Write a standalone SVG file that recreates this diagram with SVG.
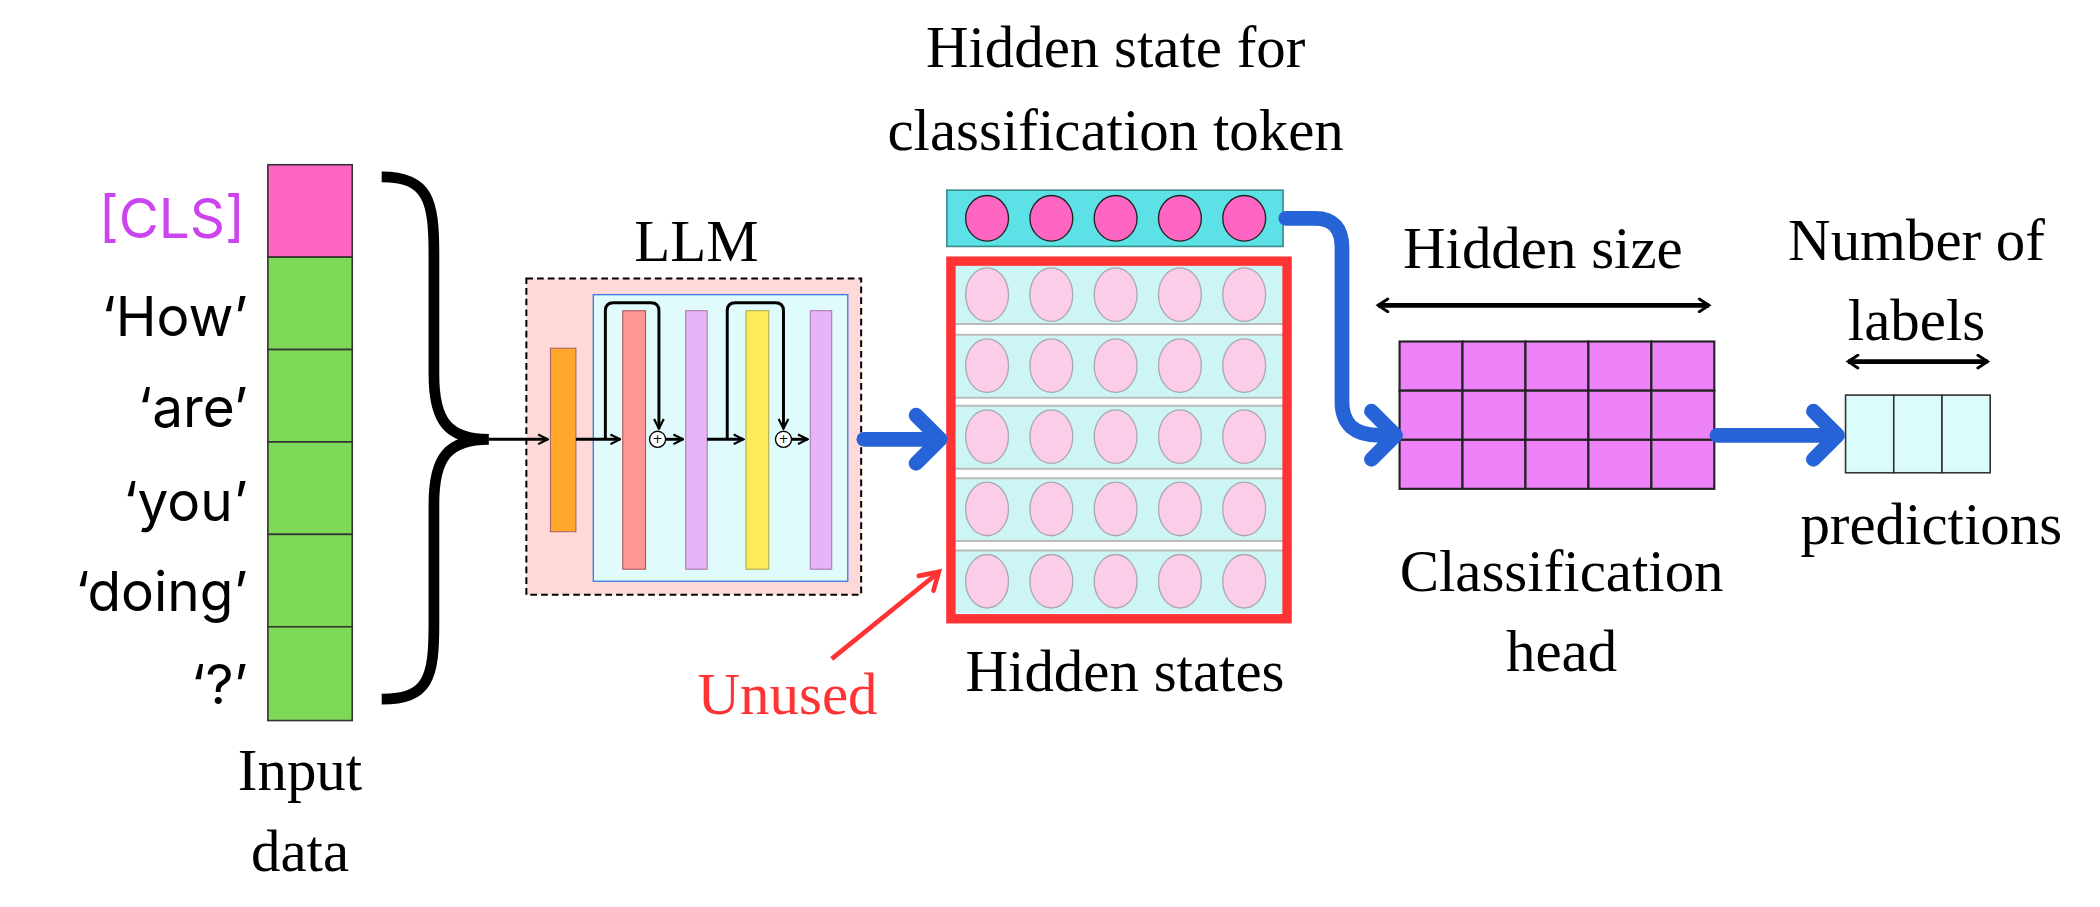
<svg xmlns="http://www.w3.org/2000/svg" width="2100" height="907" viewBox="0 0 2100 907">
<defs>
<style>
.s{font-family:"Liberation Serif","DejaVu Serif",serif;font-size:44px;fill:#000;text-anchor:middle}
.t{font-family:Inter,"Noto Sans",sans-serif;font-size:41px;fill:#000;text-anchor:end}
.cell{stroke:#333;stroke-width:1.2}
.hc{fill:#fccde8;stroke:#aaa;stroke-width:1}
.row{fill:#cdf5f5}
.sep{stroke:#bbb;stroke-width:1.5}
.bk{fill:none;stroke:#000;stroke-width:2.2}
.bl{fill:none;stroke:#2563d6;stroke-width:11;stroke-linecap:round;stroke-linejoin:round}
</style>
<marker id="ah" viewBox="0 0 10 10" refX="9" refY="5" markerWidth="9" markerHeight="9" markerUnits="userSpaceOnUse" orient="auto"><path d="M1,1 L9,5 L1,9" fill="none" stroke="#000" stroke-width="1.8"/></marker>
<marker id="dh" viewBox="0 0 10 10" refX="8" refY="5" markerWidth="12" markerHeight="12" markerUnits="userSpaceOnUse" orient="auto-start-reverse"><path d="M2,1 L8,5 L2,9" fill="none" stroke="#000" stroke-width="1.8" stroke-linecap="round"/></marker>
</defs>
<rect width="2100" height="907" fill="#fff"/>
<g transform="scale(1.3393)">
<g id="input">
<rect x="200" y="123" width="63" height="69" fill="#ff66c4" class="cell"/>
<rect x="200" y="192" width="63" height="69" fill="#7ed957" class="cell"/>
<rect x="200" y="261" width="63" height="69" fill="#7ed957" class="cell"/>
<rect x="200" y="330" width="63" height="69" fill="#7ed957" class="cell"/>
<rect x="200" y="399" width="63" height="69" fill="#7ed957" class="cell"/>
<rect x="200" y="468" width="63" height="70" fill="#7ed957" class="cell"/>
<text class="t" x="183" y="178" style="fill:#cc44ee">[CLS]</text>
<text class="t" x="185" y="251">‘How’</text>
<text class="t" x="185" y="319">‘are’</text>
<text class="t" x="185" y="389">‘you’</text>
<text class="t" x="185" y="456">‘doing’</text>
<text class="t" x="185" y="526">‘?’</text>
<text class="s" x="224" y="590">Input</text>
<text class="s" x="224" y="650">data</text>
</g>
<g id="brace"><path d="M285,132 C320,132 324,150 324,190 L324,280 C324,315 335,328 365,328 C335,328 324,341 324,376 L324,466 C324,506 320,522 285,522" fill="none" stroke="#000" stroke-width="8"/></g>
<g id="llm">
<text class="s" x="520" y="195">LLM</text>
<rect x="393" y="208" width="250" height="236" fill="#fdd9d9" stroke="#000" stroke-width="1.5" stroke-dasharray="5,3"/>
<rect x="443" y="220" width="190" height="214" fill="#dffbfb" stroke="#3b7be0" stroke-width="1"/>
<rect x="411" y="260" width="19" height="137" fill="#ffa62b" stroke="#a66" stroke-width="0.8"/>
<rect x="465" y="232" width="17" height="193" fill="#ff9595" stroke="#a55" stroke-width="0.8"/>
<rect x="512" y="232" width="16" height="193" fill="#e8b4f8" stroke="#a7a" stroke-width="0.8"/>
<rect x="557" y="232" width="17" height="193" fill="#ffeb57" stroke="#aa5" stroke-width="0.8"/>
<rect x="605" y="232" width="16" height="193" fill="#e8b4f8" stroke="#a7a" stroke-width="0.8"/>
<path class="bk" d="M365,328 H409" marker-end="url(#ah)"/>
<path class="bk" d="M430,328 H463" marker-end="url(#ah)"/>
<path class="bk" d="M452,328 V232 Q452,226 458,226 H486 Q492,226 492,232 V320" marker-end="url(#ah)"/>
<circle cx="491" cy="328" r="6" fill="#fff" stroke="#000" stroke-width="1"/>
<text x="491" y="331" font-family="DejaVu Sans,sans-serif" font-size="9" text-anchor="middle">+</text>
<path class="bk" d="M497,328 H510" marker-end="url(#ah)"/>
<path class="bk" d="M528,328 H555" marker-end="url(#ah)"/>
<path class="bk" d="M543,328 V232 Q543,226 549,226 H579 Q585,226 585,232 V320" marker-end="url(#ah)"/>
<circle cx="585" cy="328" r="6" fill="#fff" stroke="#000" stroke-width="1"/>
<text x="585" y="331" font-family="DejaVu Sans,sans-serif" font-size="9" text-anchor="middle">+</text>
<path class="bk" d="M591,328 H603" marker-end="url(#ah)"/>
</g>
<g id="cls-hidden">
<text class="s" x="833" y="50">Hidden state for</text>
<text class="s" x="833" y="112">classification token</text>
<rect x="707" y="142" width="251" height="42" fill="#5ce1e6" stroke="#3a8a8a" stroke-width="1.2"/>
<g fill="#ff66c4" stroke="#222" stroke-width="1"><ellipse cx="737" cy="163" rx="16" ry="17"/><ellipse cx="785" cy="163" rx="16" ry="17"/><ellipse cx="833" cy="163" rx="16" ry="17"/><ellipse cx="881" cy="163" rx="16" ry="17"/><ellipse cx="929" cy="163" rx="16" ry="17"/></g>
</g>
<g id="hidden-states">
<rect class="row" x="713" y="197" width="245" height="45"/>
<rect class="row" x="713" y="250" width="245" height="47"/>
<rect class="row" x="713" y="303" width="245" height="47"/>
<rect class="row" x="713" y="357" width="245" height="47"/>
<rect class="row" x="713" y="411" width="245" height="47"/>
<path class="sep" d="M713,242H958M713,250H958M713,297H958M713,303H958M713,350H958M713,357H958M713,404H958M713,411H958"/>
<g class="hc">
<ellipse cx="737" cy="220" rx="16" ry="20"/><ellipse cx="785" cy="220" rx="16" ry="20"/><ellipse cx="833" cy="220" rx="16" ry="20"/><ellipse cx="881" cy="220" rx="16" ry="20"/><ellipse cx="929" cy="220" rx="16" ry="20"/>
<ellipse cx="737" cy="273" rx="16" ry="20"/><ellipse cx="785" cy="273" rx="16" ry="20"/><ellipse cx="833" cy="273" rx="16" ry="20"/><ellipse cx="881" cy="273" rx="16" ry="20"/><ellipse cx="929" cy="273" rx="16" ry="20"/>
<ellipse cx="737" cy="326" rx="16" ry="20"/><ellipse cx="785" cy="326" rx="16" ry="20"/><ellipse cx="833" cy="326" rx="16" ry="20"/><ellipse cx="881" cy="326" rx="16" ry="20"/><ellipse cx="929" cy="326" rx="16" ry="20"/>
<ellipse cx="737" cy="380" rx="16" ry="20"/><ellipse cx="785" cy="380" rx="16" ry="20"/><ellipse cx="833" cy="380" rx="16" ry="20"/><ellipse cx="881" cy="380" rx="16" ry="20"/><ellipse cx="929" cy="380" rx="16" ry="20"/>
<ellipse cx="737" cy="434" rx="16" ry="20"/><ellipse cx="785" cy="434" rx="16" ry="20"/><ellipse cx="833" cy="434" rx="16" ry="20"/><ellipse cx="881" cy="434" rx="16" ry="20"/><ellipse cx="929" cy="434" rx="16" ry="20"/>
</g>
<rect x="710" y="195" width="251" height="267" fill="none" stroke="#ff3333" stroke-width="7"/>
<text class="s" x="840" y="516">Hidden states</text>
</g>
<g id="unused">
<text class="s" x="588" y="533" style="fill:#ff3333">Unused</text>
</g>
<g id="head">
<text class="s" x="1152" y="200">Hidden size</text>
<g fill="#ee82f8" stroke="#222" stroke-width="1.6">
<rect x="1045" y="255" width="47" height="36.7"/><rect x="1092" y="255" width="47" height="36.7"/><rect x="1139" y="255" width="47" height="36.7"/><rect x="1186" y="255" width="47" height="36.7"/><rect x="1233" y="255" width="47" height="36.7"/>
<rect x="1045" y="291.7" width="47" height="36.7"/><rect x="1092" y="291.7" width="47" height="36.7"/><rect x="1139" y="291.7" width="47" height="36.7"/><rect x="1186" y="291.7" width="47" height="36.7"/><rect x="1233" y="291.7" width="47" height="36.7"/>
<rect x="1045" y="328.4" width="47" height="36.6"/><rect x="1092" y="328.4" width="47" height="36.6"/><rect x="1139" y="328.4" width="47" height="36.6"/><rect x="1186" y="328.4" width="47" height="36.6"/><rect x="1233" y="328.4" width="47" height="36.6"/>
</g>
<text class="s" x="1166" y="441">Classification</text>
<text class="s" x="1166" y="501">head</text>
</g>
<g id="predictions">
<text class="s" x="1431" y="194">Number of</text>
<text class="s" x="1431" y="254">labels</text>
<g fill="#dcfcfc" stroke="#333" stroke-width="1.2"><rect x="1378" y="295" width="36" height="58"/><rect x="1414" y="295" width="36" height="58"/><rect x="1450" y="295" width="36" height="58"/></g>
<text class="s" x="1442" y="406">predictions</text>
</g>
<g id="connectors">
<path class="bl" d="M645,328 H700"/><path class="bl" d="M684,310 L702,328 L684,346"/>
<path class="bl" d="M960,163 H982 Q1002,163 1002,185 V300 Q1002,325 1030,325 H1038"/><path class="bl" d="M1024,307 L1042,325 L1024,343"/>
<path class="bl" d="M1282,325 H1368"/><path class="bl" d="M1354,307 L1372,325 L1354,343"/>
<path d="M1029,228 H1276" stroke="#000" stroke-width="3.5" fill="none" marker-start="url(#dh)" marker-end="url(#dh)"/>
<path d="M1380,270 H1484" stroke="#000" stroke-width="3.5" fill="none" marker-start="url(#dh)" marker-end="url(#dh)"/>
<path d="M621,492 L700,428" stroke="#ff3333" stroke-width="3.5" fill="none"/><path d="M686,430 L701,427 L697,441" stroke="#ff3333" stroke-width="3.5" fill="none" stroke-linecap="round"/>
</g>
</g>
</svg>
